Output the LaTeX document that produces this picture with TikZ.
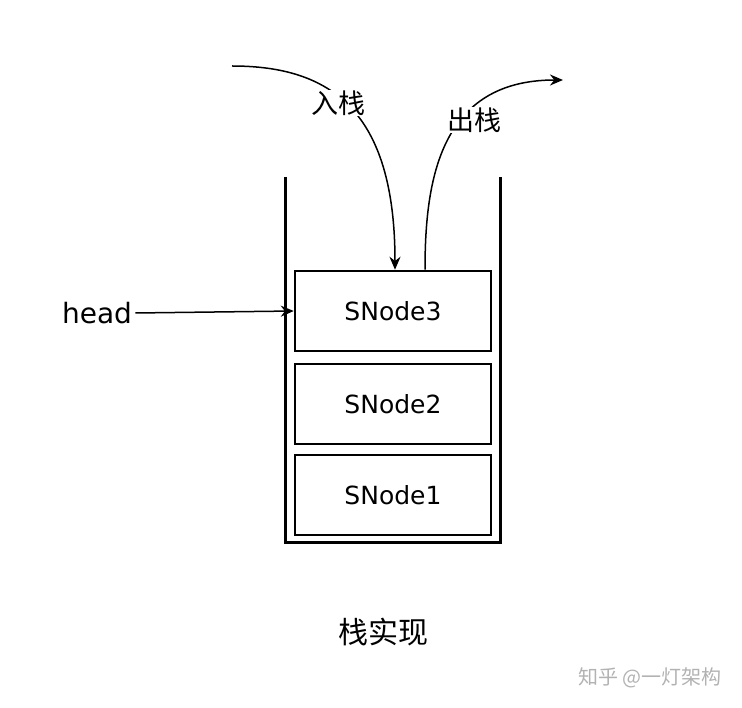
\documentclass[tikz,border=0pt]{standalone}
\usepackage{fontspec}
\setmainfont{DejaVu Sans}
\newfontfamily\cjk{Noto Sans CJK SC}
\usetikzlibrary{arrows.meta}
\begin{document}
\begin{tikzpicture}[x=1pt,y=-1pt,
  box/.style={draw,line width=2.5pt,minimum width=196pt,minimum height=80pt,inner sep=0,font=\fontsize{25}{28}\selectfont},
  lbl/.style={font=\fontsize{27}{30}\selectfont\cjk,fill=white,inner sep=1pt},
  arr/.style={line width=1.5pt,-{Stealth[length=13pt,width=11pt]}}]
\useasboundingbox (0,0) rectangle (742,708);
\draw[line width=3pt] (285,177) -- (285,542) -- (500,542) -- (500,177);
\node[box] (s3) at (393,311) {SNode3};
\node[box] (s2) at (393,404) {SNode2};
\node[box] (s1) at (393,495) {SNode1};
\node[font=\fontsize{28}{31}\selectfont] (head) at (97,313) {head};
\draw[arr] (head.east) -- (s3.west);
\coordinate (in0) at (232,66);
\coordinate (out1) at (563,80);
\draw[arr] (in0) .. controls (330,66) and (395,110) .. ([xshift=2pt]s3.north);
\draw[arr] ([xshift=32pt]s3.north) .. controls (425,180) and (440,80) .. (out1);
\node[lbl] (push) at (338,103) {入栈};
\node[lbl] (pop) at (474,120) {出栈};
\node[font=\fontsize{30}{33}\selectfont\cjk] (title) at (383,632) {栈实现};
\node[font=\fontsize{20}{23}\selectfont\cjk,text=gray!60] (wm) at (650,678) {知乎 @一灯架构};
\end{tikzpicture}
\end{document}
